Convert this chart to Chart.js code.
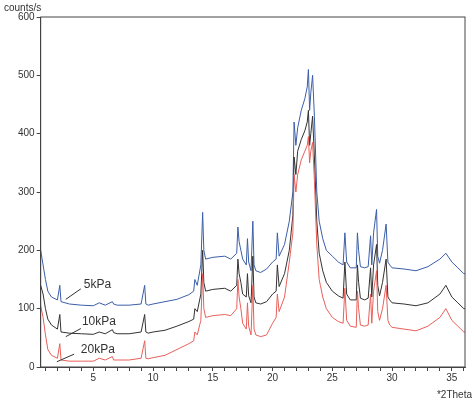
<!DOCTYPE html><html><head><script src="https://cdn.jsdelivr.net/npm/chart.js"></script>
<style>body{margin:0;background:#fff}#w{width:474px;height:403px}</style></head><body><div id="w"><canvas id="c"></canvas></div><script>
const twoTheta=[0.6,0.8,1.0,1.2,1.5,2.0,2.2,2.3,3,4,5,5.5,6,6.6,6.7,7,8,9,9.3,9.4,9.6,10,11,12,13,13.4,13.5,13.7,14.0,14.15,14.25,14.4,15,16,16.5,17.0,17.1,17.2,17.35,17.5,17.8,17.9,18.0,18.2,18.35,18.45,18.6,19,19.5,20,20.3,20.4,20.55,21,21.4,21.7,21.8,21.95,22.1,22.4,22.7,22.9,23.0,23.1,23.2,23.35,23.5,23.7,23.9,24.0,24.2,24.5,25,25.5,25.9,26.05,26.2,26.5,27,27.1,27.2,27.35,27.7,28,28.2,28.3,28.45,28.7,28.8,28.95,29.2,29.5,29.65,29.8,30,31,32,33,34,34.5,35,35.5,36,36.1];
const s5kPa=[200,175,150,130,120,115,140,112,108,106,105,110,106,112,108,106,106,108,140,108,106,108,112,116,124,130,150,140,175,265,200,185,188,190,185,195,240,215,200,185,175,220,180,165,250,175,165,162,168,180,185,230,190,210,250,300,420,380,410,440,460,480,510,440,470,500,430,300,250,240,220,200,190,180,175,230,180,170,170,230,200,172,170,172,225,175,230,270,190,178,200,245,180,175,170,168,165,172,185,195,180,170,160,160];
const s10kPa=[140,125,100,82,72,65,90,60,58,57,56,60,57,64,59,57,57,60,90,60,58,60,63,70,78,82,100,95,125,200,145,130,133,135,130,140,185,160,145,125,120,160,122,110,190,120,110,108,112,125,130,175,138,160,200,260,360,330,370,390,405,420,440,380,400,430,360,250,195,185,165,145,130,122,118,180,125,115,115,175,145,118,115,118,170,120,175,210,140,122,145,185,120,115,110,108,105,110,125,140,120,110,100,100];
const s20kPa=[105,85,55,30,20,15,40,12,10,10,10,15,12,18,12,12,12,15,45,15,14,16,20,30,40,45,60,55,80,160,100,85,88,90,88,100,150,120,100,75,65,110,70,55,140,65,55,52,55,75,85,125,95,120,180,230,330,300,330,355,370,380,395,350,370,385,320,210,150,140,120,100,85,78,75,135,80,70,68,130,100,72,70,72,125,75,130,165,95,80,100,140,80,72,68,65,62,70,85,100,80,70,60,60];
const labels=[{t:'5kPa',x:4.2,y:141,a:[3.96,134],b:[2.7,116]},{t:'10kPa',x:4.05,y:78,a:[3.96,66],b:[2.7,52]},{t:'20kPa',x:3.96,y:29,a:[3.4,22],b:[1.95,9]}];
const mk=(d,c)=>({data:twoTheta.map((x,i)=>({x,y:d[i]})),borderColor:c,borderWidth:1,pointRadius:0,showLine:true,tension:0});
const ann={id:'ann',afterDraw(ch){const g=ch.ctx,xs=ch.scales.x,ys=ch.scales.y;g.save();g.font='12px "Liberation Sans"';g.fillStyle='#333';g.strokeStyle='#333';g.lineWidth=1;
labels.forEach(l=>{g.textBaseline='middle';g.fillText(l.t,xs.getPixelForValue(l.x),ys.getPixelForValue(l.y));g.beginPath();g.moveTo(xs.getPixelForValue(l.a[0]),ys.getPixelForValue(l.a[1]));g.lineTo(xs.getPixelForValue(l.b[0]),ys.getPixelForValue(l.b[1]));g.stroke();});
const a=ch.chartArea;g.strokeStyle='#444';g.strokeRect(a.left,a.top,a.right-a.left,a.bottom-a.top);
g.fillStyle='#333';g.font='10px "Liberation Sans"';g.textAlign='left';g.textBaseline='middle';g.fillText('counts/s',4,8);g.textAlign='right';g.fillText('*2Theta',472,395);g.restore();}};
new Chart(document.getElementById('c'),{type:'scatter',data:{datasets:[mk(s20kPa,'#e8605a'),mk(s10kPa,'#333333'),mk(s5kPa,'#3c5ea8')]},
options:{responsive:true,maintainAspectRatio:false,animation:false,layout:{padding:{left:16,right:9,top:17,bottom:18}},plugins:{legend:{display:false},tooltip:{enabled:false}},
scales:{x:{type:'linear',min:0.6,max:36.1,grid:{display:true,drawOnChartArea:false,drawTicks:true,tickLength:4,color:'#444'},border:{color:'#444'},afterBuildTicks:s=>{s.ticks=[];for(let v=1;v<=36;v++)s.ticks.push({value:v});},
ticks:{autoSkip:false,maxRotation:0,color:'#333',font:{size:10,family:'Liberation Sans'},padding:1,callback:v=>v%5===0?String(v):''}},
y:{min:0,max:600,afterBuildTicks:s=>{s.ticks=[];for(let v=0;v<=600;v+=100)s.ticks.push({value:v});},grid:{display:true,drawOnChartArea:false,drawTicks:true,tickLength:4,color:'#444'},border:{color:'#444'},ticks:{color:'#333',font:{size:10,family:'Liberation Sans'},padding:2}}}},plugins:[ann]});
</script></body></html>
